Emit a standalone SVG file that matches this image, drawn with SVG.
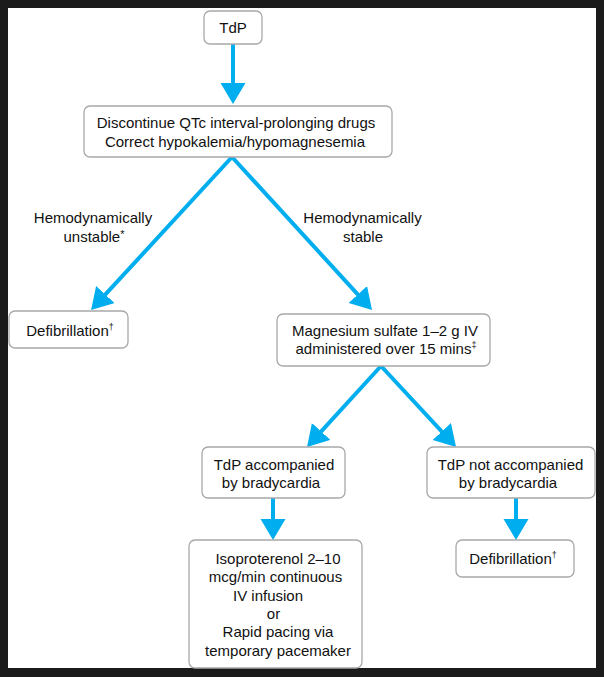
<svg xmlns="http://www.w3.org/2000/svg" width="604" height="677" viewBox="0 0 604 677">
<style>
.box{fill:#fff;stroke:#a8a8a8;stroke-width:1.3}
.t{font-family:"Liberation Sans",Arial,sans-serif;font-size:15px;fill:#111;text-anchor:middle}
.sup{font-size:9px}
.ast{font-size:11px}
.c{stroke:#00aeef;stroke-width:4;fill:none;marker-end:url(#ah)}
</style>
<defs>
<marker id="ah" markerUnits="userSpaceOnUse" markerWidth="22" markerHeight="26" refX="9" refY="12.5" orient="auto">
<path d="M0,0 L21,12.5 L0,25 Z" fill="#00aeef"/>
</marker>
</defs>
<rect x="0" y="0" width="604" height="677" fill="#1b1b1b"/>
<rect x="8" y="8" width="588" height="660" fill="#fff"/>
<g id="connectors">
<line class="c" x1="233" y1="44" x2="233" y2="92"/>
<line class="c" x1="232" y1="157" x2="99.2" y2="301.2"/>
<line class="c" x1="232" y1="157" x2="363.9" y2="301.1"/>
<line class="c" x1="381" y1="366" x2="315.1" y2="438.1"/>
<line class="c" x1="381" y1="366" x2="447.9" y2="438.1"/>
<line class="c" x1="273" y1="498" x2="273" y2="528"/>
<line class="c" x1="516" y1="498" x2="516" y2="528"/>
<text class="t" x="93" y="223">Hemodynamically</text>
<text class="t" x="94" y="242">unstable<tspan class="ast" dy="-4">*</tspan></text>
<text class="t" x="362.5" y="223">Hemodynamically</text>
<text class="t" x="363" y="242">stable</text>
</g>
<g id="n-tdp">
<rect class="box" x="204" y="11" width="58" height="33" rx="6"/>
<text class="t" x="233" y="33">TdP</text>
</g>
<g id="n-discontinue">
<rect class="box" x="84" y="106" width="308" height="51" rx="6"/>
<text class="t" x="236" y="128">Discontinue QTc interval-prolonging drugs</text>
<text class="t" x="235" y="147">Correct hypokalemia/hypomagnesemia</text>
</g>
<g id="n-defib1">
<rect class="box" x="9" y="311" width="119" height="37" rx="6"/>
<text class="t" x="70" y="336">Defibrillation<tspan class="sup" dy="-6">†</tspan></text>
</g>
<g id="n-mag">
<rect class="box" x="277" y="314" width="213" height="52" rx="6"/>
<text class="t" x="385" y="336">Magnesium sulfate 1–2 g IV</text>
<text class="t" x="386" y="354">administered over 15 mins<tspan class="sup" dy="-6">‡</tspan></text>
</g>
<g id="n-brady">
<rect class="box" x="202" y="447" width="143" height="51" rx="6"/>
<text class="t" x="274" y="470">TdP accompanied</text>
<text class="t" x="271" y="488">by bradycardia</text>
</g>
<g id="n-nobrady">
<rect class="box" x="427" y="447" width="168" height="51" rx="6"/>
<text class="t" x="510.5" y="470">TdP not accompanied</text>
<text class="t" x="508" y="488">by bradycardia</text>
</g>
<g id="n-iso">
<rect class="box" x="189" y="540" width="173" height="128" rx="6"/>
<text class="t" x="278" y="564">Isoproterenol 2–10</text>
<text class="t" x="275.5" y="582.3">mcg/min continuous</text>
<text class="t" x="268" y="600.7">IV infusion</text>
<text class="t" x="273.5" y="619">or</text>
<text class="t" x="278" y="637.3">Rapid pacing via</text>
<text class="t" x="278" y="655.7">temporary pacemaker</text>
</g>
<g id="n-defib2">
<rect class="box" x="456" y="540" width="118" height="37" rx="6"/>
<text class="t" x="513" y="564">Defibrillation<tspan class="sup" dy="-6">†</tspan></text>
</g>
</svg>
